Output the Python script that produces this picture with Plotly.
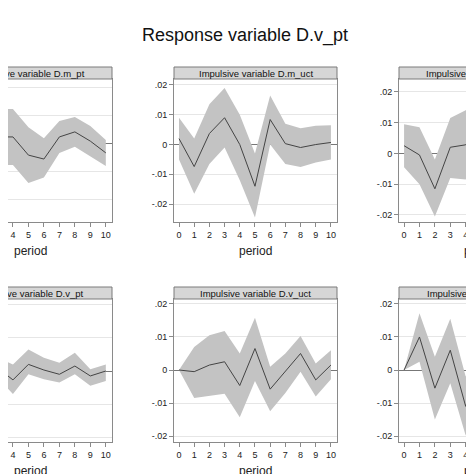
import plotly.graph_objects as go

# ---- data (periods and IRF values) ----
periods_left = [3, 4, 5, 6, 7, 8, 9, 10]
periods_full = [0, 1, 2, 3, 4, 5, 6, 7, 8, 9, 10]
periods_right = [0, 1, 2, 3, 4, 5, 6]

mpt_irf = [0.0025, 0.0025, -0.004, -0.0054, 0.0025, 0.0043, 0.001, -0.0032]
mpt_hi = [0.0125, 0.0125, 0.006, 0.002, 0.0082, 0.0096, 0.0064, 0.0014]
mpt_lo = [-0.0075, -0.0075, -0.014, -0.012, -0.0032, -0.001, -0.0043, -0.0079]

muct_irf = [0.002, -0.0074, 0.0037, 0.009, 0.0, -0.014, 0.0084, 0.0003, -0.001, 0.0, 0.0007]
muct_hi = [0.009, 0.002, 0.0135, 0.019, 0.010, -0.003, 0.0165, 0.007, 0.0055, 0.0063, 0.0065]
muct_lo = [-0.005, -0.0165, -0.0065, -0.001, -0.012, -0.0245, 0.0, -0.0065, -0.0075, -0.006, -0.005]

mct_irf = [0.0025, -0.0005, -0.0115, 0.002, 0.0028, 0.0105, 0.012]
mct_hi = [0.0095, 0.0085, -0.002, 0.0115, 0.014, 0.022, 0.024]
mct_lo = [-0.0045, -0.01, -0.0205, -0.008, -0.0085, -0.001, 0.0]

vpt_irf = [0.001, -0.0027, 0.002, 0.0003, -0.001, 0.0015, -0.0015, 0.0]
vpt_hi = [0.004, 0.002, 0.0065, 0.004, 0.0025, 0.0055, 0.0005, 0.002]
vpt_lo = [-0.002, -0.007, -0.001, -0.0025, -0.0035, -0.001, -0.0045, -0.003]

vuct_irf = [0.0, -0.0005, 0.0015, 0.0025, -0.0047, 0.0065, -0.0058, -0.0005, 0.005, -0.003, 0.0015]
vuct_hi = [0.0, 0.007, 0.0105, 0.0118, 0.005, 0.0158, 0.001, 0.005, 0.0103, 0.002, 0.006]
vuct_lo = [0.0, -0.0085, -0.0078, -0.0072, -0.0143, -0.0033, -0.0125, -0.007, -0.0005, -0.008, -0.0028]

vct_irf = [0.0, 0.01, -0.0055, 0.006, -0.011, 0.004, -0.002]
vct_hi = [0.0, 0.0172, 0.004, 0.0155, -0.002, 0.012, 0.005]
vct_lo = [0.0, 0.0025, -0.015, -0.004, -0.0198, -0.005, -0.01]

headers = ["Impulsive variable D.m_pt", "Impulsive variable D.m_uct", "Impulsive variable D.m_ct",
           "Impulsive variable D.v_pt", "Impulsive variable D.v_uct", "Impulsive variable D.v_ct"]
yticks = [-0.02, -0.01, 0, 0.01, 0.02]
yticktext = ["-.02", "-.01", "0", ".01", ".02"]

W = H = 474
def px(x): return x / W
def py(y): return 1 - y / H

panels = [
    (periods_left, mpt_irf, mpt_hi, mpt_lo, [px(0), px(104)], [py(214), py(71)], [3.68, 10.4], [-0.0279, 0.0232], list(range(4, 11)), 22),
    (periods_full, muct_irf, muct_hi, muct_lo, [px(166), px(329)], [py(214), py(71)], [-0.33, 10.4], [-0.026, 0.022], list(range(0, 11)), 247.5),
    (periods_right, mct_irf, mct_hi, mct_lo, [px(391), 1.0], [py(214), py(71)], [-0.33, 5.06], [-0.0223, 0.0242], list(range(0, 6)), 472),
    (periods_left, vpt_irf, vpt_hi, vpt_lo, [px(0), px(104)], [py(434), py(291)], [3.68, 10.4], [-0.0215, 0.0218], list(range(4, 11)), 22),
    (periods_full, vuct_irf, vuct_hi, vuct_lo, [px(166), px(329)], [py(434), py(291)], [-0.33, 10.4], [-0.0218, 0.0215], list(range(0, 11)), 247.5),
    (periods_right, vct_irf, vct_hi, vct_lo, [px(391), 1.0], [py(434), py(291)], [-0.33, 5.06], [-0.0218, 0.0215], list(range(0, 6)), 472),
]

fig = go.Figure()
shapes, annos = [], []
for i, (xs, irf, hi, lo, xd, yd, xr, yr, xt, hc) in enumerate(panels):
    n = i + 1
    xa, ya = f"x{n}", f"y{n}"
    fig.add_trace(go.Scatter(x=xs + xs[::-1], y=hi + lo[::-1], fill="toself", fillcolor="#c3c3c3",
                             line=dict(width=0), mode="lines", xaxis=xa, yaxis=ya, showlegend=False, hoverinfo="skip"))
    fig.add_trace(go.Scatter(x=xs, y=irf, mode="lines", line=dict(color="#444444", width=1),
                             xaxis=xa, yaxis=ya, showlegend=False))
    k = "" if n == 1 else str(n)
    left = n in (1, 4)
    fig.layout["xaxis" + k] = dict(domain=xd, range=xr, anchor=ya, tickvals=xt, showgrid=False, zeroline=False,
                                   showline=True, mirror=True, linecolor="#8a8a8a", ticks="outside", ticklen=4,
                                   tickcolor="#8a8a8a", tickfont=dict(size=9, color="#222"), automargin=False)
    fig.layout["yaxis" + k] = dict(domain=yd, range=yr, anchor=xa, tickvals=yticks, ticktext=yticktext,
                                   showticklabels=not left,
                                   showgrid=True, gridcolor="#e6e6e6", zeroline=True, zerolinecolor="#777",
                                   zerolinewidth=1, showline=True, mirror=True, linecolor="#8a8a8a",
                                   ticks="outside", ticklen=4, tickcolor="#8a8a8a", tickfont=dict(size=9, color="#222"),
                                   automargin=False)
    hy0 = yd[1]
    hy1 = yd[1] + 12 / H
    shapes.append(dict(type="rect", xref="paper", yref="paper", x0=xd[0] - (0.2 if left else 0),
                       x1=xd[1] + (0.2 if n in (3, 6) else 0), y0=hy0, y1=hy1,
                       fillcolor="#d6d6d6", line=dict(color="#7a7a7a", width=1)))
    annos.append(dict(text=headers[i], xref="paper", yref="paper", x=px(hc), y=(hy0 + hy1) / 2,
                      showarrow=False, font=dict(size=9.5, color="#111"), xanchor="center", yanchor="middle"))
    annos.append(dict(text="period", xref="paper", yref="paper", x=px(hc), y=yd[0] - 29 / H,
                      showarrow=False, font=dict(size=12, color="#222"), xanchor="center", yanchor="middle"))

annos.append(dict(text="Response variable D.v_pt", xref="paper", yref="paper", x=0.5, y=py(28),
                  showarrow=False, font=dict(size=18, color="#111"), xanchor="center", yanchor="middle"))

fig.update_layout(width=W, height=H, margin=dict(l=0, r=0, t=0, b=0, autoexpand=False), paper_bgcolor="white",
                  plot_bgcolor="white", shapes=shapes, annotations=annos,
                  font=dict(family="Liberation Sans, Arial, sans-serif"))
fig.write_html("out.html")
